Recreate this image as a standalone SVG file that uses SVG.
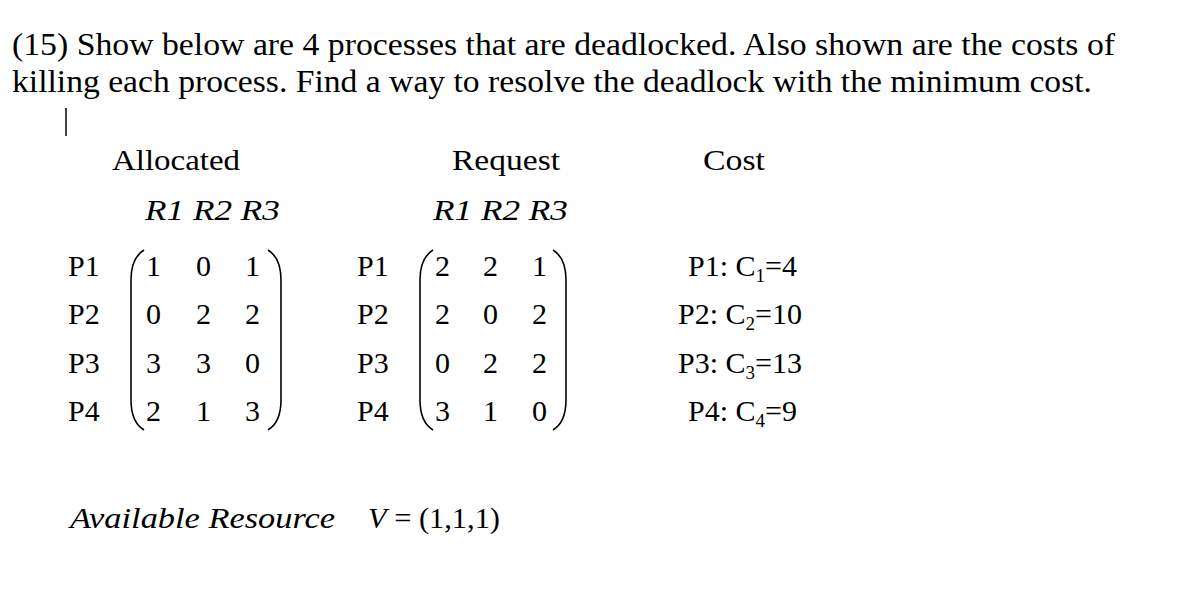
<svg xmlns="http://www.w3.org/2000/svg" width="1180" height="596" viewBox="0 0 1180 596">
<style>
text{font-family:"Liberation Serif","Times New Roman",serif;fill:#000}
.h{font-size:31px}
.m{font-size:30px}
.i{font-style:italic;font-size:29px}
.s{font-size:19px}
.b{fill:none;stroke:#000;stroke-width:1.6}
</style>
<rect width="1180" height="596" fill="#fff"/>
<text class="h" x="12" y="55" textLength="1103" lengthAdjust="spacingAndGlyphs">(15) Show below are 4 processes that are deadlocked. Also shown are the costs of</text>
<text class="h" x="12" y="92" textLength="1080" lengthAdjust="spacingAndGlyphs">killing each process. Find a way to resolve the deadlock with the minimum cost.</text>
<line x1="66" y1="108" x2="66" y2="136" stroke="#000" stroke-width="1.5"/>
<text class="m" x="112" y="170" textLength="128" lengthAdjust="spacingAndGlyphs">Allocated</text>
<text class="m" x="452" y="170" textLength="108" lengthAdjust="spacingAndGlyphs">Request</text>
<text class="m" x="703" y="170" textLength="62" lengthAdjust="spacingAndGlyphs">Cost</text>
<text class="i" x="145" y="220" textLength="135" lengthAdjust="spacingAndGlyphs">R1  R2 R3</text>
<text class="i" x="433" y="220" textLength="135" lengthAdjust="spacingAndGlyphs">R1  R2 R3</text>
<g>
<text class="m" x="68" y="276">P1</text><text class="m" x="68" y="324">P2</text><text class="m" x="68" y="373">P3</text><text class="m" x="68" y="421">P4</text>
<text class="m" x="357" y="276">P1</text><text class="m" x="357" y="324">P2</text><text class="m" x="357" y="373">P3</text><text class="m" x="357" y="421">P4</text>
</g>
<g>
<text class="m" x="146" y="276">1</text><text class="m" x="196" y="276">0</text><text class="m" x="245" y="276">1</text>
<text class="m" x="146" y="324">0</text><text class="m" x="196" y="324">2</text><text class="m" x="245" y="324">2</text>
<text class="m" x="146" y="373">3</text><text class="m" x="196" y="373">3</text><text class="m" x="245" y="373">0</text>
<text class="m" x="146" y="421">2</text><text class="m" x="196" y="421">1</text><text class="m" x="245" y="421">3</text>
<text class="m" x="435" y="276">2</text><text class="m" x="483" y="276">2</text><text class="m" x="532" y="276">1</text>
<text class="m" x="435" y="324">2</text><text class="m" x="483" y="324">0</text><text class="m" x="532" y="324">2</text>
<text class="m" x="435" y="373">0</text><text class="m" x="483" y="373">2</text><text class="m" x="532" y="373">2</text>
<text class="m" x="435" y="421">3</text><text class="m" x="483" y="421">1</text><text class="m" x="532" y="421">0</text>
</g>
<path class="b" d="M144 250 Q131 258 131 280 V400 Q131 422 144 430"/>
<path class="b" d="M268 250 Q281 258 281 280 V400 Q281 422 268 430"/>
<path class="b" d="M433 250 Q420 258 420 280 V400 Q420 422 433 430"/>
<path class="b" d="M553 250 Q566 258 566 280 V400 Q566 422 553 430"/>
<text class="m" x="688" y="276">P1: C<tspan class="s" dy="6">1</tspan><tspan dy="-6">=4</tspan></text>
<text class="m" x="678" y="324">P2: C<tspan class="s" dy="6">2</tspan><tspan dy="-6">=10</tspan></text>
<text class="m" x="678" y="373">P3: C<tspan class="s" dy="6">3</tspan><tspan dy="-6">=13</tspan></text>
<text class="m" x="688" y="421">P4: C<tspan class="s" dy="6">4</tspan><tspan dy="-6">=9</tspan></text>
<text class="i" x="70" y="528" textLength="265" lengthAdjust="spacingAndGlyphs">Available Resource</text>
<text class="m" x="368" y="528" textLength="132" lengthAdjust="spacingAndGlyphs"><tspan font-style="italic">V</tspan> = (1,1,1)</text>
</svg>
